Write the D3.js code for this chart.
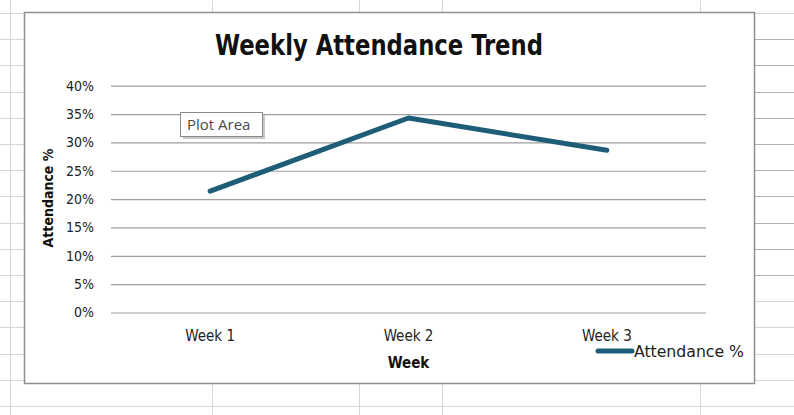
<!DOCTYPE html>
<html>
<head>
<meta charset="utf-8">
<script src="https://cdn.jsdelivr.net/npm/d3@7"></script>
<style>
  body { margin: 0; background: #fff; }
  svg { display: block; }
  .narrow { font-family: "Liberation Sans Narrow", "Arial Narrow", "DejaVu Sans Condensed", sans-serif; }
</style>
</head>
<body>
<svg id="chart" width="794" height="415"></svg>
<script>
// Chart data
const weeks = ["Week 1", "Week 2", "Week 3"];
const attendance = [0.214, 0.343, 0.286];
const yTicks = [0, 0.05, 0.1, 0.15, 0.2, 0.25, 0.3, 0.35, 0.4];
const seriesName = "Attendance %";

const svg = d3.select("#chart");
const W = 794, H = 415;

// Spreadsheet cells behind the chart
const rowTop = 13, rowH = 26.2;
const colXs = [10, 212, 359, 442, 700];
const rows = d3.range(rowTop, H, rowH);

svg.append("g").selectAll("line")
  .data(rows)
  .enter().append("line")
  .attr("x1", 0).attr("x2", W)
  .attr("y1", (d) => Math.round(d) + 0.5).attr("y2", (d) => Math.round(d) + 0.5)
  .attr("stroke", "#d6d6d6");

// the selected rows show darker on the right of the chart
svg.append("g").selectAll("line")
  .data(rows.filter((d) => d > 30 && d < 290))
  .enter().append("line")
  .attr("x1", 755).attr("x2", W)
  .attr("y1", (d) => Math.round(d) + 0.5).attr("y2", (d) => Math.round(d) + 0.5)
  .attr("stroke", "#b0b0b0");

svg.append("g").selectAll("line")
  .data(colXs)
  .enter().append("line")
  .attr("x1", (d) => d + 0.5).attr("x2", (d) => d + 0.5)
  .attr("y1", 0).attr("y2", H)
  .attr("stroke", "#d6d6d6");

// Chart box
const box = { x: 24, y: 12, w: 730, h: 371 };
svg.append("rect")
  .attr("x", box.x + 0.5).attr("y", box.y + 0.5)
  .attr("width", box.w).attr("height", box.h)
  .attr("fill", "#fff")
  .attr("stroke", "#8f8f8f")
  .attr("stroke-width", 1.5);

// Scales
const x = d3.scaleBand().domain(weeks).range([111, 706]);
const y = d3.scaleLinear().domain([0, 0.4]).range([312.5, 85.7]);
const cx = (d) => x(d) + x.bandwidth() / 2;

// Gridlines
svg.append("g")
  .attr("transform", "translate(111,0)")
  .call(d3.axisLeft(y).tickValues(yTicks).tickSize(-595).tickFormat(""))
  .call((g) => g.select(".domain").remove())
  .call((g) => g.selectAll("line").attr("stroke", "#9e9e9e").attr("stroke-width", 1.2));

// Y tick labels
svg.append("g")
  .attr("class", "narrow")
  .attr("transform", "translate(111,0)")
  .call(d3.axisLeft(y).tickValues(yTicks).tickSize(0).tickPadding(17).tickFormat(d3.format(".0%")))
  .call((g) => g.select(".domain").remove())
  .call((g) => g.selectAll("text").attr("fill", "#222").style("font-size", "14px").style("font-family", null));

// X tick labels
svg.append("g")
  .attr("class", "narrow")
  .attr("transform", "translate(0,312.5)")
  .call(d3.axisBottom(x).tickSize(0).tickPadding(18))
  .call((g) => g.select(".domain").remove())
  .call((g) => g.selectAll("text").attr("fill", "#222").style("font-size", "15px").style("font-family", null));

// Line
const line = d3.line()
  .x((d, i) => cx(weeks[i]))
  .y((d) => y(d));

svg.append("path")
  .datum(attendance)
  .attr("d", line)
  .attr("fill", "none")
  .attr("stroke", "#1e5d78")
  .attr("stroke-width", 5)
  .attr("stroke-linecap", "round")
  .attr("stroke-linejoin", "round");

// Title
svg.append("text")
  .attr("class", "narrow")
  .attr("x", 379).attr("y", 55)
  .attr("text-anchor", "middle")
  .attr("textLength", 328)
  .attr("lengthAdjust", "spacingAndGlyphs")
  .style("font-size", "28px")
  .style("font-weight", "bold")
  .attr("fill", "#111")
  .text("Weekly Attendance Trend");

// Axis titles
svg.append("text")
  .attr("class", "narrow")
  .attr("transform", "translate(48,198) rotate(-90)")
  .attr("text-anchor", "middle")
  .attr("dominant-baseline", "central")
  .style("font-size", "14px")
  .style("font-weight", "bold")
  .attr("fill", "#111")
  .text("Attendance %");

svg.append("text")
  .attr("class", "narrow")
  .attr("x", cx(weeks[1])).attr("y", 368)
  .attr("text-anchor", "middle")
  .style("font-size", "15px")
  .style("font-weight", "bold")
  .attr("fill", "#111")
  .text("Week");

// Legend
svg.append("line")
  .attr("x1", 598).attr("x2", 632)
  .attr("y1", 351).attr("y2", 351)
  .attr("stroke", "#1e5d78")
  .attr("stroke-width", 5)
  .attr("stroke-linecap", "round");

svg.append("text")
  .attr("class", "narrow")
  .attr("x", 634).attr("y", 357)
  .attr("textLength", 110)
  .attr("lengthAdjust", "spacingAndGlyphs")
  .style("font-size", "15.5px")
  .attr("fill", "#222")
  .text(seriesName);

// "Plot Area" hover tip
const tip = svg.append("g").attr("transform", "translate(180,112)");
tip.append("rect")
  .attr("x", 3).attr("y", 3).attr("width", 82).attr("height", 24)
  .attr("fill", "#c8c8c8");
tip.append("rect")
  .attr("x", 0.5).attr("y", 0.5).attr("width", 82).attr("height", 24)
  .attr("fill", "#fff")
  .attr("stroke", "#8a8a8a");
tip.append("text")
  .attr("x", 7).attr("y", 17.5)
  .style("font-family", "'Open Sans', 'Noto Sans', sans-serif")
  .style("font-size", "15px")
  .attr("fill", "#4a4a4a")
  .text("Plot Area");
</script>
</body>
</html>
